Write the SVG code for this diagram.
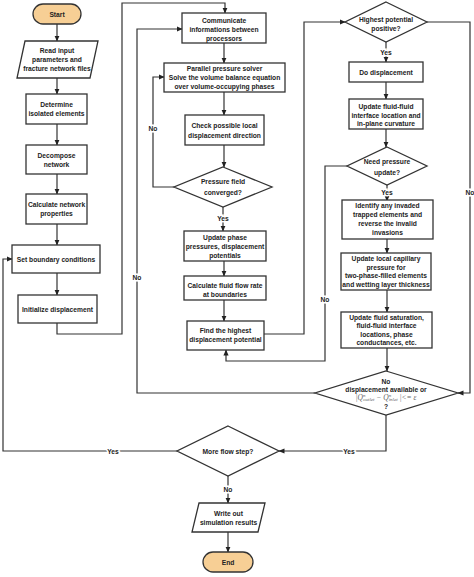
<svg xmlns="http://www.w3.org/2000/svg" width="474" height="577" viewBox="0 0 474 577">
<defs>
<marker id="ah" markerUnits="userSpaceOnUse" markerWidth="6" markerHeight="6" refX="5.5" refY="3" orient="auto">
<path d="M0,0.4 L6,3 L0,5.6 z" fill="#222"/>
</marker>
<style>
.n{fill:#fff;stroke:#333;stroke-width:1.3}
.t{fill:#f7cf95;stroke:#333;stroke-width:1.3}
text{font-family:"Liberation Sans",Arial,sans-serif;font-size:6.7px;font-weight:bold;fill:#222;text-anchor:middle;dominant-baseline:central}
.c{fill:none;stroke:#333;stroke-width:1.2;marker-end:url(#ah)}
.p{fill:none;stroke:#333;stroke-width:1.2}
.l{stroke:#fff;stroke-width:3;paint-order:stroke}
.f{font-family:"Liberation Serif","Times New Roman",serif;font-style:italic;font-weight:normal;fill:#666;font-size:7.5px}
</style>
</defs>
<rect width="474" height="577" fill="#fff"/>
<g id="connectors">
<path class="c" d="M57,24 V41"/>
<path class="c" d="M57,78 V94"/>
<path class="c" d="M57,124 V145"/>
<path class="c" d="M57,174 V194"/>
<path class="c" d="M57,224 V245"/>
<path class="c" d="M57,273 V295"/>
<path class="c" d="M57,323 V334 H122 V3 H225 V13"/>
<path class="c" d="M224,43 V63"/>
<path class="c" d="M224,92 V115"/>
<path class="c" d="M224,145 V167"/>
<path class="c" d="M174,187 H153 V77 H164"/>
<path class="c" d="M223,207 V231"/>
<path class="c" d="M224,261 V276"/>
<path class="c" d="M224,300 V321"/>
<path class="c" d="M264,334 H304 V22 H345"/>
<path class="c" d="M347,166 H325 V361 H226 V350"/>
<path class="c" d="M315,393 H137 V29 H182"/>
<path class="c" d="M386,42 V62"/>
<path class="c" d="M386,82 V99"/>
<path class="c" d="M386,129 V147"/>
<path class="c" d="M387,185 V201"/>
<path class="c" d="M387,239 V253"/>
<path class="c" d="M387,290 V312"/>
<path class="c" d="M387,348 V371"/>
<path class="c" d="M427,22 H470 V393 H458"/>
<path class="c" d="M386,415 V451 H279"/>
<path class="c" d="M177,451 H3 V259 H12"/>
<path class="c" d="M228,476 V503"/>
<path class="c" d="M228,532 V552"/>
<text class="l" x="153" y="128">No</text>
<text class="l" x="223" y="218">Yes</text>
<text class="l" x="325" y="299">No</text>
<text class="l" x="137" y="277">No</text>
<text class="l" x="386" y="52">Yes</text>
<text class="l" x="387" y="192">Yes</text>
<text class="l" x="470" y="192">No</text>
<text class="l" x="349" y="451">Yes</text>
<text class="l" x="113" y="451">Yes</text>
<text class="l" x="228" y="489">No</text>
</g>
<g id="start"><rect class="t" x="33" y="4" width="48" height="20" rx="10"/><text x="57" y="14">Start</text></g>
<g id="read"><polygon class="n" points="25,41 98,41 90,78 17,78"/><text x="57" y="50">Read input</text><text x="57" y="59">parameters and</text><text x="57" y="68">fracture network files</text></g>
<g id="determine"><rect class="n" x="26" y="94" width="61" height="30"/><text x="56.5" y="104">Determine</text><text x="56.5" y="113">isolated elements</text></g>
<g id="decompose"><rect class="n" x="26" y="145" width="61" height="29"/><text x="56.5" y="155">Decompose</text><text x="56.5" y="164">network</text></g>
<g id="calcnet"><rect class="n" x="26" y="194" width="61" height="30"/><text x="56.5" y="204">Calculate network</text><text x="56.5" y="213">properties</text></g>
<g id="setbc"><rect class="n" x="12" y="245" width="88" height="28"/><text x="56" y="259">Set boundary conditions</text></g>
<g id="initdisp"><rect class="n" x="18" y="295" width="79" height="28"/><text x="57.5" y="309">Initialize displacement</text></g>
<g id="communicate"><rect class="n" x="182" y="13" width="84" height="30"/><text x="224" y="20">Communicate</text><text x="224" y="29">informations between</text><text x="224" y="38">processors</text></g>
<g id="solver"><rect class="n" x="164" y="63" width="121" height="29"/><text x="224.5" y="68">Parallel pressure solver</text><text x="224.5" y="77">Solve the volume balance equation</text><text x="224.5" y="86">over volume-occupying phases</text></g>
<g id="check"><rect class="n" x="185" y="115" width="79" height="30"/><text x="224.5" y="125">Check possible local</text><text x="224.5" y="135">displacement direction</text></g>
<g id="converged"><polygon class="n" points="223,167 272,187 223,207 174,187"/><text x="223" y="181">Pressure field</text><text x="223" y="192">converged?</text></g>
<g id="updphase"><rect class="n" x="184" y="231" width="82" height="30"/><text x="225" y="237">Update phase</text><text x="225" y="246">pressures, displacement</text><text x="225" y="255">potentials</text></g>
<g id="calcflow"><rect class="n" x="184" y="276" width="82" height="24"/><text x="225" y="285">Calculate fluid flow rate</text><text x="225" y="294">at boundaries</text></g>
<g id="findhigh"><rect class="n" x="187" y="321" width="77" height="29"/><text x="225.5" y="330">Find the highest</text><text x="225.5" y="339">displacement potential</text></g>
<g id="highpos"><polygon class="n" points="386,2 427,22 386,42 345,22"/><text x="386" y="19">Highest potential</text><text x="386" y="28">positive?</text></g>
<g id="dodisp"><rect class="n" x="349" y="62" width="74" height="20"/><text x="386" y="72">Do displacement</text></g>
<g id="updff"><rect class="n" x="349" y="99" width="74" height="30"/><text x="386" y="106.5">Update fluid-fluid</text><text x="386" y="115">interface location and</text><text x="386" y="123.5">in-plane curvature</text></g>
<g id="needp"><polygon class="n" points="387,147 427,166 387,185 347,166"/><text x="387" y="161">Need pressure</text><text x="387" y="172">update?</text></g>
<g id="identify"><rect class="n" x="342" y="200" width="91" height="39"/><text x="387.5" y="205.5">Identify any invaded</text><text x="387.5" y="214.5">trapped elements and</text><text x="387.5" y="223.5">reverse the invalid</text><text x="387.5" y="232.5">invasions</text></g>
<g id="capillary"><rect class="n" x="341" y="253" width="90" height="37"/><text x="386" y="258.5">Update local capillary</text><text x="386" y="267">pressure for</text><text x="386" y="275.5">two-phase-filled elements</text><text x="386" y="284">and wetting layer thickness</text></g>
<g id="saturation"><rect class="n" x="341" y="312" width="91" height="36"/><text x="386.5" y="317">Update fluid saturation,</text><text x="386.5" y="325.5">fluid-fluid interface</text><text x="386.5" y="334">locations, phase</text><text x="386.5" y="342.5">conductances, etc.</text></g>
<g id="nodisp"><polygon class="n" points="386,371 458,393 386,415 315,393"/><text x="386" y="381">No</text><text x="386" y="389">displacement available or</text><text class="f" x="386" y="397">|Q<tspan font-size="5" dy="-2.5">n</tspan><tspan font-size="5" dx="-2.5" dy="4">outlet</tspan><tspan dy="-1.5"> − Q</tspan><tspan font-size="5" dy="-2.5">n</tspan><tspan font-size="5" dx="-2.5" dy="4">inlet</tspan><tspan dy="-1.5"> |&lt;= ε</tspan></text><text x="386" y="406">?</text></g>
<g id="moreflow"><polygon class="n" points="228,426 279,451 228,476 177,451"/><text x="228" y="451">More flow step?</text></g>
<g id="writeout"><polygon class="n" points="199,503 265,503 258,532 192,532"/><text x="228.5" y="513">Write out</text><text x="228.5" y="522">simulation results</text></g>
<g id="end"><rect class="t" x="203" y="552" width="50" height="20" rx="10"/><text x="228" y="562">End</text></g>
</svg>
